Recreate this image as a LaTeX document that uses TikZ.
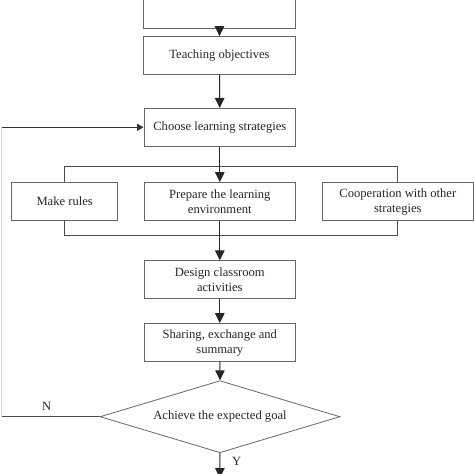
\documentclass[tikz,border=0pt]{standalone}
\usepackage{fontspec}
\setmainfont{Liberation Serif}
\usetikzlibrary{arrows.meta,shapes.geometric}
\begin{document}
\begin{tikzpicture}[x=1pt,y=1pt,
  box/.style={draw=black!60,line width=0.8pt,minimum width=151.7pt,minimum height=38pt,inner sep=0pt,align=center,text=black!85,font=\fontsize{12.6}{15}\selectfont},
  arr/.style={line width=1pt,draw=black!85,-{Triangle[width=9.5pt,length=10pt]}},
  sarr/.style={line width=1pt,draw=black!80,-{Triangle[width=7pt,length=6.5pt]}},
  ln/.style={line width=1pt,draw=black!70},
  faint/.style={line width=1.2pt,draw=black!15},
  lbl/.style={font=\fontsize{12.6}{14}\selectfont,text=black!85,inner sep=0pt}]
\useasboundingbox (0,0) rectangle (474,-474);
\clip (0,0) rectangle (474,-474);
\node[box,minimum height=40pt] (top) at (219.5,-8) {};
\node[box] (to) at (219.5,-55.5) {Teaching objectives};
\node[box] (ch) at (219.8,-127.3) {Choose learning strategies};
\node[box,minimum width=106pt] (mk) at (64.7,-201.5) {Make rules};
\node[box] (pr) at (219.8,-201.5) {Prepare the learning\\environment};
\node[box,minimum width=151pt] (rt) at (397.8,-201.5) {Cooperation with other\\strategies};
\node[box] (de) at (219.8,-279.8) {Design classroom\\activities};
\node[box] (sh) at (219.8,-342.5) {Sharing, exchange and\\summary};
\node[draw=black!60,line width=0.8pt,diamond,aspect=3.33,minimum width=240pt,minimum height=72pt,inner sep=0pt,text=black!85,font=\fontsize{12.6}{15}\selectfont] (dg) at (220,-416.7) {Achieve the expected goal};
\node[lbl] (n) at (46.7,-406) {N};
\node[lbl] (y) at (236.7,-461) {Y};
\coordinate (L1) at (1.5,-416.7);
\coordinate (L2) at (1.5,-127.3);
\coordinate (end) at (219.8,-478);
\draw[arr] (top) -- (to);
\draw[arr] (to) -- (ch);
\draw[ln] (mk.north) -- ++(0,15.6) -| (rt.north);
\draw[ln] (mk.south) -- ++(0,-14.6) -| (rt.south);
\draw[arr] (ch) -- (pr);
\draw[arr] (pr) -- (de);
\draw[arr] (de) -- (sh);
\draw[arr] (sh) -- (dg.north);
\draw[arr] (dg.south) -- (end);
\draw[ln] (dg.west) -- (L1);
\draw[faint] (L1) -- (L2);
\draw[sarr] (L2) -- (ch.west);
\end{tikzpicture}
\end{document}
